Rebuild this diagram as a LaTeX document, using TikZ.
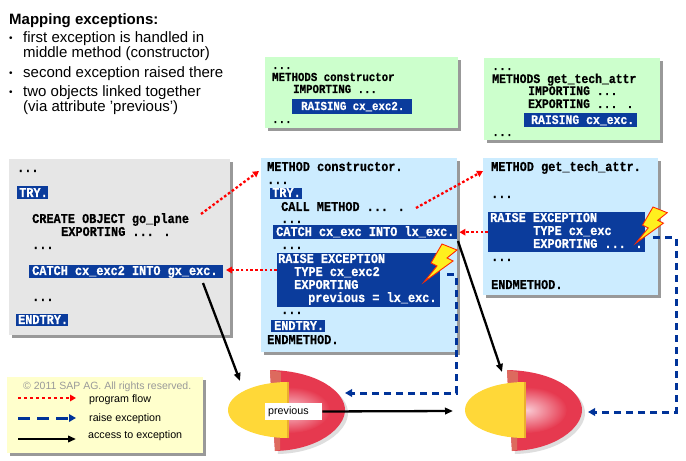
\documentclass[tikz,border=0pt]{standalone}
\usepackage{fontspec}
\setmainfont{Liberation Sans}
\newfontfamily\codefont{Liberation Mono}[FakeStretch=0.88, BoldFeatures={FakeStretch=0.88, FakeBold=0.6}]
\usetikzlibrary{arrows.meta,shadows}
\definecolor{navy}{HTML}{0B3C9C}
\definecolor{greenbox}{HTML}{CCFFCC}
\definecolor{bluebox}{HTML}{CCECFF}
\definecolor{greybox}{HTML}{E6E6E6}
\definecolor{legendbox}{HTML}{FFFFCC}
\definecolor{flowred}{HTML}{FF0000}
\definecolor{raiseblue}{HTML}{003399}
\definecolor{shellred}{HTML}{E6394F}
\definecolor{shellpink}{HTML}{F9C9D2}
\definecolor{rimred}{HTML}{DD6A5E}
\definecolor{yelA}{HTML}{FFD838}
\definecolor{yelB}{HTML}{FFE87A}
\definecolor{yeledge}{HTML}{EBAE2E}
\definecolor{boltyel}{HTML}{FFF01E}
\definecolor{boltred}{HTML}{FF2A00}
\definecolor{copygrey}{HTML}{9A9A9A}
\begin{document}
\begin{tikzpicture}[x=1bp,y=-1bp,
  code/.style={font=\codefont\bfseries\fontsize{13.5bp}{15bp}\selectfont, anchor=base west, inner sep=0},
  codeS/.style={font=\codefont\bfseries\fontsize{12.2bp}{14bp}\selectfont, anchor=base west, inner sep=0},
  codeM/.style={font=\codefont\bfseries\fontsize{13bp}{14bp}\selectfont, anchor=base west, inner sep=0},
  wht/.style={text=white},
  box/.style={anchor=north west, inner sep=0, drop shadow={shadow xshift=3bp,shadow yshift=-3bp,fill=black!40,opacity=1}},
  hl/.style={anchor=north west, inner sep=0, fill=navy},
  sans/.style={font=\fontsize{15bp}{18bp}\selectfont, anchor=base west, inner sep=0},
  small/.style={font=\fontsize{10.7bp}{13bp}\selectfont, anchor=base west, inner sep=0},
  bul/.style={font=\fontsize{10bp}{12bp}\selectfont, anchor=base west, inner sep=0},
  rdot/.style={draw=flowred, line width=2.3bp, dash pattern=on 2.6bp off 2.2bp, -{Triangle[length=6bp,width=6.5bp]}},
  bdash/.style={draw=raiseblue, line width=3bp, dash pattern=on 7bp off 5bp, -{Triangle[length=7bp,width=7.5bp]}},
  bdashL/.style={draw=raiseblue, line width=3bp, dash pattern=on 12bp off 7bp, -{Triangle[length=7bp,width=7.5bp]}},
  blk/.style={draw=black, line width=2.3bp, -{Triangle[length=8bp,width=6.5bp]}},
  bolt/.pic={\filldraw[fill=boltyel, draw=boltred, line width=0.9bp, line join=miter]
     (0,0) -- (15,6) -- (5,14) -- (11,17) -- (-18,38) -- (-5,22) -- (-11,19) -- cycle;}
]
\useasboundingbox (0,0) rectangle (686,461);
\fill[white] (0,0) rectangle (686,461);

% ---------- heading ----------
\node[sans, font=\bfseries\fontsize{15bp}{18bp}\selectfont] (title) at (9,25) {Mapping exceptions:};
\node[bul] (b1) at (9,42) {•};
\node[sans] (t1) at (23,43) {first exception is handled in};
\node[sans] (t2) at (23,58) {middle method (constructor)};
\node[bul] (b2) at (9,77) {•};
\node[sans] (t3) at (23,78) {second exception raised there};
\node[bul] (b3) at (9,96) {•};
\node[sans] (t4) at (23,97) {two objects linked together};
\node[sans] (t5) at (23,112) {(via attribute 'previous')};

% ---------- boxes ----------
\node[box, fill=greenbox, minimum width=193bp, minimum height=71bp] (g1) at (265,57) {};
\node[box, fill=greenbox, minimum width=176bp, minimum height=82bp] (g2) at (484,58) {};
\node[box, fill=greybox, minimum width=221bp, minimum height=176bp] (left) at (9,159) {};
\node[box, fill=bluebox, minimum width=196bp, minimum height=194bp] (mid) at (261,158) {};
\node[box, fill=bluebox, minimum width=175bp, minimum height=137bp] (right) at (483,158) {};
\node[box, fill=legendbox, minimum width=196bp, minimum height=76bp] (legend) at (7,377) {};

% ---------- highlights ----------
\node[hl, minimum width=120bp, minimum height=15bp] (g1raise) at (292,99) {};
\node[hl, minimum width=113bp, minimum height=14bp] (g2raise) at (524,113) {};
\node[hl, minimum width=31bp, minimum height=13bp] (tryL) at (17,186) {};
\node[hl, minimum width=194bp, minimum height=13bp] (catchL) at (29,265) {};
\node[hl, minimum width=52bp, minimum height=12bp] (endtryL) at (16,314) {};
\node[hl, minimum width=32bp, minimum height=11bp] (tryM) at (270,188) {};
\node[hl, minimum width=184bp, minimum height=14bp] (catchM) at (273,225) {};
\node[hl, minimum width=163bp, minimum height=54bp] (raiseM) at (277,253) {};
\node[hl, minimum width=54bp, minimum height=12bp] (endtryM) at (271,320) {};
\node[hl, minimum width=157bp, minimum height=40bp] (raiseR) at (488,212) {};

% ---------- green box 1 ----------
\node[codeS] (g1a) at (272,69) {...};
\node[codeS] (g1b) at (272,81) {METHODS constructor};
\node[codeS] (g1c) at (293,93) {IMPORTING ...};
\node[codeS, wht] (g1d) at (301,110) {RAISING cx\_exc2.};
\node[codeS] (g1e) at (272,123) {...};

% ---------- green box 2 ----------
\node[codeM] (g2a) at (492,70) {...};
\node[codeM] (g2b) at (492,83) {METHODS get\_tech\_attr};
\node[codeM] (g2c) at (528,95) {IMPORTING ...};
\node[codeM] (g2d) at (528,108) {EXPORTING ... .};
\node[codeM, wht] (g2e) at (531,124) {RAISING cx\_exc.};
\node[codeM] (g2f) at (492,136) {...};

% ---------- left box ----------
\node[code] (l1) at (17,172) {...};
\node[code, wht] (l2) at (19,197) {TRY.};
\node[code] (l3) at (32,223) {CREATE OBJECT go\_plane};
\node[code] (l4) at (61,236) {EXPORTING ... .};
\node[code] (l5) at (32,249) {...};
\node[code, wht] (l6) at (32,275) {CATCH cx\_exc2 INTO gx\_exc.};
\node[code] (l7) at (32,301) {...};
\node[code, wht] (l8) at (18,324) {ENDTRY.};

% ---------- middle box ----------
\node[code] (m1) at (267,171) {METHOD constructor.};
\node[code] (m2) at (267,184) {...};
\node[code, wht] (m3) at (272,197) {TRY.};
\node[code] (m4) at (281,211) {CALL METHOD ... .};
\node[code] (m5) at (281,223) {...};
\node[code, wht] (m6) at (276,236) {CATCH cx\_exc INTO lx\_exc.};
\node[code] (m7) at (281,249) {...};
\node[code, wht] (m8) at (278,263) {RAISE EXCEPTION};
\node[code, wht] (m9) at (294,276) {TYPE cx\_exc2};
\node[code, wht] (m10) at (294,289) {EXPORTING};
\node[code, wht] (m11) at (308,302) {previous = lx\_exc.};
\node[code] (m12) at (281,314) {...};
\node[code, wht] (m13) at (274,330) {ENDTRY.};
\node[code] (m14) at (267,344) {ENDMETHOD.};

% ---------- right box ----------
\node[code] (r1) at (491,171) {METHOD get\_tech\_attr.};
\node[code] (r2) at (491,198) {...};
\node[code, wht] (r3) at (490,222) {RAISE EXCEPTION};
\node[code, wht] (r4) at (533,235) {TYPE cx\_exc};
\node[code, wht] (r5) at (533,248) {EXPORTING ... .};
\node[code] (r6) at (491,261) {...};
\node[code] (r7) at (491,289) {ENDMETHOD.};

% ---------- lightning ----------
\pic at (442,244) {bolt};
\pic[scale=0.95] at (653,207) {bolt};

% ---------- exception objects ----------
\foreach \ox/\nm in {288/L, 525/R}{
\begin{scope}[shift={(\ox,410)}]
  \fill[black!13] (-15,-37) .. controls (33,-36) and (60,-15) .. (60,3) .. controls (60,21) and (33,43) .. (-10,44) -- cycle;
  \fill[shellred] (-18,-40) .. controls (30,-39) and (57,-18) .. (57,0) .. controls (57,18) and (30,40) .. (-13,41) -- cycle;
  \shade[inner color=shellpink, outer color=shellred] (2,0) ellipse [x radius=40, y radius=23];
  \fill[rimred] (-18,-40) -- (-7,-38) -- (-8,40) -- (-13,41) -- cycle;
  \shade[top color=yelA, middle color=yelB, bottom color=yelA] (0,-28) arc[start angle=-90, end angle=-270, x radius=60, y radius=28] -- cycle;
  \draw[yeledge, line width=1.3bp] (0,-28) -- (0,28);
\end{scope}
}
\node[small, anchor=west, fill=white, inner xsep=3bp, inner ysep=0, minimum height=17bp, text width=51bp] (prev) at (265,411.5) {previous};

% ---------- named ends ----------
\coordinate (r1s) at (201,214);
\coordinate (r1e) at (259,171);
\coordinate (r2s) at (416,208);
\coordinate (r2e) at (483,171);
\coordinate (r4s) at (277,270);
\coordinate (r4e) at (226,270);
\coordinate (b1s) at (447,275);
\coordinate (b1a) at (456,275);
\coordinate (b1b) at (456,393);
\coordinate (b1e) at (345,393);
\coordinate (b2s) at (653,238);
\coordinate (b2a) at (676,238);
\coordinate (b2b) at (676,412);
\coordinate (b2e) at (588,412);
\coordinate (k1s) at (203,283);
\coordinate (k1e) at (240,381);
\coordinate (k2s) at (458,241);
\coordinate (k2e) at (502,372);
\coordinate (k3e) at (453,411);

% ---------- connectors ----------
\draw[rdot] (r1s) -- (r1e);
\draw[rdot] (r2s) -- (r2e);
\draw[rdot] (raiseR.west |- catchM.east) -- ([xshift=2bp]catchM.east);
\draw[rdot] (r4s) -- (r4e);
\draw[bdash] (b1s) -- (b1a) -- (b1b) -- (b1e);
\draw[bdash] (b2s) -- (b2a) -- (b2b) -- (b2e);
\draw[blk] (k1s) -- (k1e);
\draw[blk] (k2s) -- (k2e);
\draw[blk] (prev.east) -- (k3e);

% ---------- legend ----------
\node[font=\fontsize{10.5bp}{12bp}\selectfont, text=copygrey, anchor=base west, inner sep=0] (copy) at (23,389) {© 2011 SAP AG. All rights reserved.};
\coordinate (lg1s) at (18,398); \coordinate (lg1e) at (76,398);
\coordinate (lg2s) at (18,418); \coordinate (lg2e) at (76,418);
\coordinate (lg3s) at (18,439); \coordinate (lg3e) at (76,439);
\draw[rdot, dash pattern=on 3bp off 3bp] (lg1s) -- (lg1e);
\draw[bdashL] (lg2s) -- (lg2e);
\draw[blk] (lg3s) -- (lg3e);
\node[small] (lgt1) at (89,402) {program flow};
\node[small] (lgt2) at (89,421) {raise exception};
\node[small] (lgt3) at (88,438) {access to exception};
\end{tikzpicture}
\end{document}
